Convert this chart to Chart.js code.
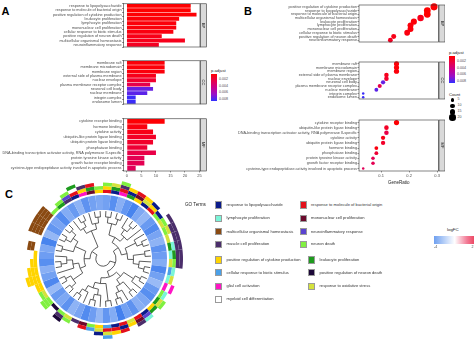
<!DOCTYPE html>
<html>
<head>
<meta charset="utf-8">
<script src="https://cdn.jsdelivr.net/npm/chart.js@4.4.1/dist/chart.umd.min.js"></script>
<style>
  body { margin: 0; width: 474px; height: 339px; overflow: hidden; background: #fff; position: relative;
         font-family: "Liberation Sans", Arial, sans-serif; }
  canvas { position: absolute; }
  .lab { position: absolute; white-space: nowrap; line-height: 1; color: #333; transform: translateY(-50%); }
  .letter { position: absolute; font-weight: bold; font-size: 11px; line-height: 1; color: #000; }
  .key { position: absolute; box-sizing: border-box; }
</style>
</head>
<body>
<div class="letter" style="left:1.5px;top:6px">A</div>
<div class="letter" style="left:244px;top:6px">B</div>
<div class="letter" style="left:5px;top:188.5px">C</div>
<script>
// ---- GO enrichment (panels A and B), one set of arrays per ontology, ordered by p.adjust ----
const bpTerms = ["response to lipopolysaccharide", "response to molecule of bacterial origin",
  "positive regulation of cytokine production", "leukocyte proliferation", "lymphocyte proliferation",
  "mononuclear cell proliferation", "cellular response to biotic stimulus", "positive regulation of neuron death",
  "multicellular organismal homeostasis", "neuroinflammatory response"];
const bpCount = [22, 22, 24, 18, 17, 17, 16, 12, 20, 11];
const bpRatio = [0.265, 0.265, 0.289, 0.217, 0.205, 0.205, 0.193, 0.145, 0.241, 0.133];
const bpPadj = [0.0002, 0.0002, 0.0003, 0.0004, 0.0005, 0.0005, 0.0006, 0.0008, 0.0009, 0.0011];

const ccTerms = ["membrane raft", "membrane microdomain", "membrane region", "external side of plasma membrane",
  "nuclear envelope", "plasma membrane receptor complex", "neuronal cell body", "nuclear membrane",
  "integrin complex", "endosome lumen"];
const ccCount = [13, 13, 13, 10, 10, 8, 9, 7, 3, 3];
const ccRatio = [0.155, 0.155, 0.155, 0.119, 0.119, 0.095, 0.107, 0.083, 0.036, 0.036];
const ccPadj = [0.0004, 0.0004, 0.0005, 0.0009, 0.0014, 0.0022, 0.0070, 0.0072, 0.0078, 0.0078];

const mfTerms = ["cytokine receptor binding", "hormone binding", "cytokine activity",
  "ubiquitin-like protein ligase binding", "ubiquitin protein ligase binding", "phosphatase binding",
  "DNA-binding transcription activator activity, RNA polymerase II-specific", "protein tyrosine kinase activity",
  "growth factor receptor binding", "cysteine-type endopeptidase activity involved in apoptotic process"];
const mfCount = [13, 7, 9, 10, 9, 7, 10, 6, 6, 3];
const mfRatio = [0.155, 0.083, 0.107, 0.119, 0.107, 0.083, 0.119, 0.071, 0.071, 0.036];
const mfPadj = [0.0003, 0.0006, 0.0008, 0.0012, 0.0013, 0.0016, 0.0021, 0.0024, 0.0024, 0.0026];

const countTicks = [0, 5, 10, 15, 20, 25];
const ratioTicks = [0.1, 0.2, 0.3];
const padjTicks = ["0.002", "0.004", "0.006", "0.008"];
const sizeTicks = [5, 10, 15, 20];

// ---- circular heatmap (panel C) ----
const logFC = [
  -2.6, -3.1, -2.2, -2.9, -3.4, -2.4, -2.0, -2.8, -3.2, -2.5,
  -2.1, -3.0, -2.7, -2.3, -3.3, -2.6, -1.9, -2.8, -3.1, -2.4,
  -2.2, -3.0, -2.6, -3.5, -2.3, -2.9, -2.0, -2.7, -3.2, -2.5,
  -2.1, -3.0, -2.4, -2.8, -1.9, -3.3, -2.6, -2.2, -3.1, -2.7,
  -2.4, -3.4, -2.0, -2.9, -2.5, -3.2, -2.3, -2.8, -2.1, -3.0,
  -2.6, -2.4];
// clustering of the genes, leaves in ring order
const treeShape = "((((((x,x),(x,x)),((x,(x,x)),x)),((x,(x,x)),((x,x),(x,(x,x))))),"
  + "((((x,x),x),((x,x),(x,(x,x)))),((x,x),((x,(x,x)),(x,(x,x)))))),"
  + "(((((x,x),(x,x)),(x,((x,x),x))),((x,x),((x,x),(x,x)))),((x,(x,x)),(x,(x,x)))))";
const goCodes = "abcdefghijklmno";
const goTerms = ["response to lipopolysaccharide", "response to molecule of bacterial origin",
  "lymphocyte proliferation", "mononuclear cell proliferation", "multicellular organismal homeostasis",
  "neuroinflammatory response", "muscle cell proliferation", "neuron death",
  "positive regulation of cytokine production", "leukocyte proliferation", "cellular response to biotic stimulus",
  "positive regulation of neuron death", "glial cell activation", "response to oxidative stress",
  "myeloid cell differentiation"];
const goColors = ["#0b1b8a", "#e3101c", "#7af5d8", "#6a0a2c", "#8a4a12", "#5a44d0", "#4b2e6b", "#80f040",
  "#ffd400", "#1e9b1e", "#4aa0e8", "#1c0838", "#ff14c4", "#d4e23c", "#ffffff"];
// GO membership tracks, inner to outer ('.' = not annotated)
const goTracks = [
  ["bamjiabhnh", "njcnkcmhji", "abnbakihdg", "nhlhniiiii", "..eeehjgam", "di"].join(""),
  ["ijbadniahn", ".cjhcn.cnj", "fdiabbnkb.", "hg.hhiiii.", "e.eee.hfbi", "jh"].join(""),
  ["hngibia..g", "gggg..m.h.", "cg.bina...", ".l.h..ii..", "e.eee..h.g", "b."].join(""),
  ["..h.....gg", "gggg......", ".....k....", "......i...", "..eee...j.", ".."].join("")
];

Chart.defaults.font.family = '"Liberation Sans", Arial, sans-serif';

function canvasAt(left, top, w, h) {
  const c = document.createElement("canvas");
  c.width = w; c.height = h;
  c.style.left = left + "px"; c.style.top = top + "px";
  c.style.width = w + "px"; c.style.height = h + "px";
  document.body.appendChild(c);
  return c;
}

function mix(c1, c2, t) {
  return c1.map((v, i) => Math.round(v + (c2[i] - v) * t));
}
const padjStops = [[255, 0, 0], [232, 0, 74], [200, 0, 140], [154, 16, 200], [48, 48, 255]];
function padjColor(p) {
  let t = (p - 0.0002) / (0.008 - 0.0002);
  t = Math.max(0, Math.min(1, t)) * (padjStops.length - 1);
  const i = Math.min(Math.floor(t), padjStops.length - 2);
  const c = mix(padjStops[i], padjStops[i + 1], t - i);
  return `rgb(${c.join(",")})`;
}
function heatColor(v) {
  const c = mix([255, 255, 255], [40, 110, 235], Math.min(1, -v / 4));
  return `rgb(${c.join(",")})`;
}
function dotSize(n) { return 0.72 * Math.sqrt(n); }

// panel border + facet strip
const facetPlugin = {
  id: "facet",
  afterDatasetsDraw(chart, args, opts) {
    const { ctx, chartArea: a } = chart;
    const h = a.bottom - a.top;
    ctx.save();
    ctx.lineWidth = 0.6;
    ctx.strokeStyle = "#333";
    ctx.strokeRect(a.left, a.top, a.right - a.left, h);
    ctx.fillStyle = "#d9d9d9";
    ctx.fillRect(a.right + 0.5, a.top, 6, h);
    ctx.strokeRect(a.right + 0.5, a.top, 6, h);
    ctx.translate(a.right + 3.5, a.top + h / 2);
    ctx.rotate(Math.PI / 2);
    ctx.fillStyle = "#1a1a1a";
    ctx.font = '4px "Liberation Sans", Arial';
    ctx.textAlign = "center";
    ctx.textBaseline = "middle";
    ctx.fillText(opts.label, 0, 0);
    ctx.restore();
  }
};

const baseOpts = { responsive: false, animation: false, events: [] };
const tickFont = { size: 3.8 };

function yAxis(width) {
  return {
    afterFit: s => { s.width = width; },
    offset: true,
    grid: { drawOnChartArea: false, tickLength: 1.5, color: "#333", lineWidth: 0.5 },
    border: { display: false },
    ticks: { font: tickFont, color: "#4d4d4d", padding: 0.5, autoSkip: false }
  };
}

function barFacet(top, chartH, terms, counts, padj, strip, showX) {
  const cv = canvasAt(0, top, 207, chartH + (showX ? 9 : 0));
  new Chart(cv, {
    type: "bar",
    data: {
      labels: terms,
      datasets: [{ data: counts, backgroundColor: padj.map(padjColor), barPercentage: 0.88, categoryPercentage: 1 }]
    },
    options: {
      ...baseOpts,
      indexAxis: "y",
      layout: { padding: { top: 0, right: 7, bottom: 0, left: 0 } },
      plugins: { legend: { display: false }, tooltip: { enabled: false }, facet: { label: strip } },
      scales: {
        x: {
          type: "linear", min: -1.2, max: 25.2, display: showX,
          afterBuildTicks: s => { s.ticks = countTicks.map(v => ({ value: v })); },
          afterFit: s => { s.height = 9; },
          grid: { drawOnChartArea: false, tickLength: 1.5, color: "#333", lineWidth: 0.5 },
          border: { display: false },
          ticks: { font: { size: 4 }, color: "#4d4d4d", padding: 1, maxRotation: 0 }
        },
        y: yAxis(123.5)
      }
    },
    plugins: [facetPlugin]
  });
}

function dotFacet(top, chartH, terms, ratio, counts, padj, strip, showX) {
  const order = terms.map((_, i) => i).sort((a, b) => ratio[b] - ratio[a]);
  const labels = order.map(i => terms[i]);
  const cv = canvasAt(230, top, 215, chartH + (showX ? 14 : 0));
  new Chart(cv, {
    type: "bubble",
    data: {
      labels: labels,
      datasets: [{
        data: order.map(i => ({ x: ratio[i], y: terms[i], r: dotSize(counts[i]) })),
        backgroundColor: order.map(i => padjColor(padj[i])),
        borderWidth: 0
      }]
    },
    options: {
      ...baseOpts,
      layout: { padding: { top: 0, right: 6.5, bottom: 0, left: 0 } },
      plugins: { legend: { display: false }, tooltip: { enabled: false }, facet: { label: strip } },
      scales: {
        x: {
          type: "linear", min: 0.021, max: 0.305, display: showX,
          afterBuildTicks: s => { s.ticks = ratioTicks.map(v => ({ value: v })); },
          afterFit: s => { s.height = 14; },
          grid: { drawOnChartArea: false, tickLength: 1.5, color: "#333", lineWidth: 0.5 },
          border: { display: false },
          ticks: { font: { size: 4 }, color: "#4d4d4d", padding: 1, maxRotation: 0 },
          title: { display: true, text: "GeneRatio", font: { size: 4.5 }, color: "#222", padding: { top: 1, bottom: 0 } }
        },
        y: { type: "category", labels: labels, ...yAxis(129) }
      }
    },
    plugins: [facetPlugin]
  });
}

barFacet(1, 55, bpTerms, bpCount, bpPadj, "BP", false);
barFacet(58, 55, ccTerms, ccCount, ccPadj, "CC", false);
barFacet(115.5, 55, mfTerms, mfCount, mfPadj, "MF", true);

dotFacet(1, 55, bpTerms, bpRatio, bpCount, bpPadj, "BP", false);
dotFacet(58, 55, ccTerms, ccRatio, ccCount, ccPadj, "CC", false);
dotFacet(115.5, 55, mfTerms, mfRatio, mfCount, mfPadj, "MF", true);

// ---- legends for A and B ----
function addText(txt, left, y, size, color) {
  const d = document.createElement("div");
  d.className = "lab";
  d.textContent = txt;
  d.style.left = left + "px"; d.style.top = y + "px";
  d.style.fontSize = size + "px";
  if (color) d.style.color = color;
  document.body.appendChild(d);
  return d;
}
function addBox(left, top, w, h, css) {
  const d = document.createElement("div");
  d.className = "key";
  d.style.left = left + "px"; d.style.top = top + "px";
  d.style.width = w + "px"; d.style.height = h + "px";
  Object.assign(d.style, css);
  document.body.appendChild(d);
  return d;
}
const padjGradient = "linear-gradient(to bottom," + padjStops.map(c => `rgb(${c.join(",")})`).join(",") + ")";
function padjLegend(x, y) {
  addText("p.adjust", x, y, 4.2, "#222");
  addBox(x + 0.3, y + 3, 5.4, 27, { background: padjGradient });
  padjTicks.forEach((t, i) => addText(t, x + 8, y + 9 + i * 6.7, 3.6, "#4d4d4d"));
}
padjLegend(211, 71);
padjLegend(449, 53);

addText("Count", 449, 94.5, 4.2, "#222");
sizeTicks.forEach((n, i) => {
  const cy = 100 + i * 5.9, r = dotSize(n);
  addBox(452.7 - r, cy - r, 2 * r, 2 * r, { background: "#000", borderRadius: "50%" });
  addText(String(n), 457.5, cy, 3.6, "#4d4d4d");
});

// ---- panel C: gene clustering, drawn inside the ring on the leaves' own arcs ----
function parseTree(s) {
  let pos = 0, leaf = 0;
  function node() {
    if (s[pos] === "x") { pos++; return { leaf: leaf++, h: 0 }; }
    pos++;
    const kids = [node()];
    while (s[pos] === ",") { pos++; kids.push(node()); }
    pos++;
    return { kids: kids, h: 1 + Math.max(...kids.map(k => k.h)) };
  }
  return node();
}
const root = parseTree(treeShape);

const dendrogramPlugin = {
  id: "dendrogram",
  afterDraw(chart) {
    const a = chart.chartArea;
    const heat = chart.getDatasetMeta(chart.data.datasets.length - 1).data;
    const cx = (a.left + a.right) / 2, cy = (a.top + a.bottom) / 2;
    const inner = heat[0] && Number.isFinite(heat[0].innerRadius) ? heat[0].innerRadius : 49;
    const rLeaf = inner - 1;
    const rRoot = rLeaf * 0.15;
    const nLeaf = logFC.length;
    const leafAngle = i => {
      const e = heat[i];
      if (e && Number.isFinite(e.startAngle) && Number.isFinite(e.endAngle)) return (e.startAngle + e.endAngle) / 2;
      return -Math.PI / 2 + (i + 0.5) * 2 * Math.PI / nLeaf;
    };
    const ctx = chart.ctx;
    ctx.save();
    ctx.globalCompositeOperation = "source-over";
    ctx.globalAlpha = 1;
    ctx.setLineDash([]);
    ctx.strokeStyle = "#333333";
    ctx.lineWidth = 0.8;
    const walk = n => {
      if (!n.kids) { n.a = leafAngle(n.leaf); n.r = rLeaf; return; }
      n.kids.forEach(walk);
      n.r = rLeaf - (rLeaf - rRoot) * n.h / root.h;
      const a0 = n.kids[0].a, a1 = n.kids[n.kids.length - 1].a;
      n.a = (a0 + a1) / 2;
      ctx.beginPath();
      ctx.arc(cx, cy, n.r, Math.min(a0, a1), Math.max(a0, a1));
      ctx.stroke();
      n.kids.forEach(c => {
        ctx.beginPath();
        ctx.moveTo(cx + n.r * Math.cos(c.a), cy + n.r * Math.sin(c.a));
        ctx.lineTo(cx + c.r * Math.cos(c.a), cy + c.r * Math.sin(c.a));
        ctx.stroke();
      });
    };
    walk(root);
    ctx.restore();
  }
};

// ---- panel C: rings (canvas kept inside the window) ----
const ones = logFC.map(() => 1);
const ringCv = canvasAt(23, 179, 160, 160);
new Chart(ringCv, {
  type: "doughnut",
  data: {
    datasets: [
      ...goTracks.slice().reverse().map(t => ({
        data: ones,
        backgroundColor: t.split("").map(ch => ch === "." ? "rgba(0,0,0,0)" : goColors[goCodes.indexOf(ch)]),
        borderWidth: 0, weight: 3.5
      })),
      { data: ones, backgroundColor: "rgba(0,0,0,0)", borderWidth: 0, weight: 2 },
      { data: ones, backgroundColor: logFC.map(heatColor), borderWidth: 0, weight: 15 }
    ]
  },
  options: {
    ...baseOpts, radius: 80, cutout: 49,
    layout: { padding: 0 },
    plugins: { legend: { display: false }, tooltip: { enabled: false } }
  },
  plugins: [dendrogramPlugin]
});

// GO term legend
addText("GO Terms", 185, 205, 4.6, "#222");
const legendRows = [205, 218.3, 231.7, 244.3, 260, 272.7, 286.3, 299.3];
goTerms.forEach((t, i) => {
  const row = Math.floor(i / 2), col = i % 2;
  const y = legendRows[row];
  let sq = 215, tx = 226.5;
  if (col === 1) { sq = row < 4 ? 299.5 : 308; tx = sq + 11.5; }
  addBox(sq, y - 3.6, 7.2, 7.2, { background: goColors[i], border: "0.6px solid #9a9a9a" });
  addText(t, tx, y, 4.1, "#333");
});

// logFC legend
addText("logFC", 447, 230, 4.4, "#222");
addBox(433.5, 236, 46, 7.5, { background: "linear-gradient(to right,#6fa0f0 0%,#ffffff 45%,#f27a95 72%,#e8203a 100%)" });
addText("-4", 434, 247.5, 3.6, "#4d4d4d");
addText("2", 471.5, 247.5, 3.6, "#4d4d4d");
</script>
</body>
</html>
